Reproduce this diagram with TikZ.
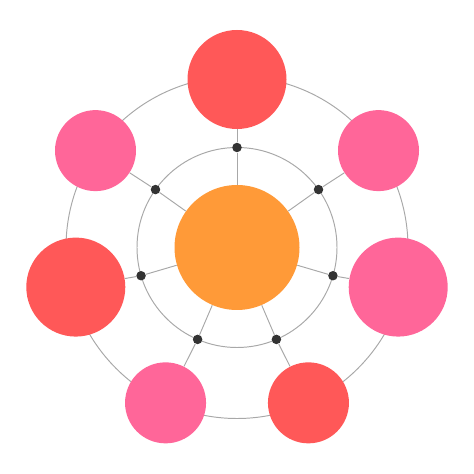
\documentclass[tikz,border=0pt]{standalone}
\usepackage{xcolor}
\definecolor{petalred}{HTML}{FF5858}
\definecolor{petalpink}{HTML}{FF6699}
\definecolor{huborange}{HTML}{FF9A38}
\definecolor{linegray}{HTML}{A8A8A8}
\definecolor{dotgray}{HTML}{333333}
\tikzset{
  ring/.style={draw=linegray, line width=0.55pt},
  spoke/.style={draw=linegray, line width=0.55pt},
  bigpetal/.style={circle, inner sep=0pt, minimum size=1.98cm},
  smallpetal/.style={circle, inner sep=0pt, minimum size=1.62cm},
  hub/.style={circle, inner sep=0pt, minimum size=2.5cm, fill=huborange},
  joint/.style={circle, inner sep=0pt, minimum size=0.19cm, fill=dotgray}
}
\begin{document}
\begin{tikzpicture}
\useasboundingbox (-4.74,-4.53) rectangle (4.74,4.95);
%% rings
\draw [ring] (0,0) circle (2);
\draw [ring] (0,0) circle (3.42);
%% centre
\node [hub] (hub) at (0,0) {};
%% outer circles
\foreach \n/\a/\r/\s/\c in {1/90/3.36/bigpetal/petalred, 2/34.4/3.43/smallpetal/petalpink,
    3/-13.8/3.32/bigpetal/petalpink, 4/-65.3/3.42/smallpetal/petalred,
    5/245.3/3.42/smallpetal/petalpink, 6/193.8/3.32/bigpetal/petalred,
    7/145.6/3.43/smallpetal/petalpink}
  \node [\s, fill=\c] (out\n) at (\a:\r) {};
%% joints on the inner ring
\foreach \n/\a in {1/90, 2/35.4, 3/-16.4, 4/-66.8, 5/246.8, 6/196.4, 7/144.6}
  \node [joint] (dot\n) at (\a:2) {};
%% spokes
\foreach \n in {1,...,7} {
  \draw [spoke] (hub) -- (dot\n);
  \draw [spoke] (dot\n) -- (out\n);
}
\end{tikzpicture}
\end{document}
